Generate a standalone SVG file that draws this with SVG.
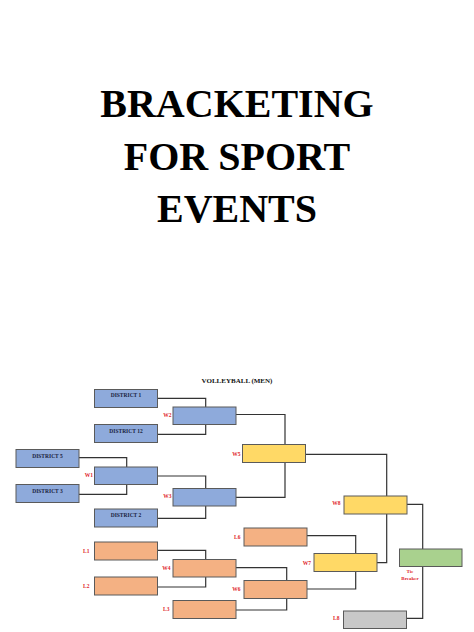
<svg xmlns="http://www.w3.org/2000/svg" width="474" height="632" viewBox="0 0 474 632">
<style>
.title{font-family:"Liberation Serif","Times New Roman",serif;font-weight:bold;font-size:40px;fill:#000;text-anchor:middle}
.sub{font-family:"Liberation Serif","Times New Roman",serif;font-weight:bold;font-size:7px;fill:#111;text-anchor:middle}
.box{stroke:#5a5a5a;stroke-width:1}
.blue{fill:#8eaadb}
.orange{fill:#f4b183}
.yellow{fill:#ffd966}
.green{fill:#a9d18e}
.gray{fill:#c8c8c8}
.dl{font-family:"Liberation Serif","Times New Roman",serif;font-weight:bold;font-size:5.5px;fill:#1a2340;text-anchor:middle}
.lab{font-family:"Liberation Serif","Times New Roman",serif;font-weight:bold;font-size:5.5px;fill:#e0242a;text-anchor:end}
.labc{font-family:"Liberation Serif","Times New Roman",serif;font-weight:bold;font-size:5px;fill:#e0242a;text-anchor:middle}
.conn{fill:none;stroke:#333;stroke-width:1.2}
</style>
<rect width="474" height="632" fill="#fff"/>
<g id="title">
<text class="title" x="237" y="117">BRACKETING</text>
<text class="title" x="237" y="170">FOR SPORT</text>
<text class="title" x="237" y="222">EVENTS</text>
</g>
<text class="sub" x="237" y="383">VOLLEYBALL (MEN)</text>
<g id="connectors">
<path class="conn" d="M157,398.3H205.7V407M157,434.3H205.7V425"/>
<path class="conn" d="M79,457.7H126.7V467M79,494.3H126.7V485"/>
<path class="conn" d="M157,476H205.7V488M157,518.3H205.7V506"/>
<path class="conn" d="M157,550.3H205.7V559M157,587H205.7V577"/>
<path class="conn" d="M236,414.5H285V497.3H236"/>
<path class="conn" d="M305,454.3H386.7V562.7H377"/>
<path class="conn" d="M236,567.7H286.7V610H236"/>
<path class="conn" d="M307,535.7H355.7V553M307,589H355.7V571"/>
<path class="conn" d="M407,504.3H422.7V618.3H406.7"/>
</g>
<g id="district1"><rect class="box blue" x="94.5" y="389.5" width="63" height="18"/><text class="dl" x="126" y="397">DISTRICT 1</text></g>
<g id="district12"><rect class="box blue" x="94.5" y="424.5" width="63" height="18"/><text class="dl" x="126" y="432.5">DISTRICT 12</text></g>
<g id="district5"><rect class="box blue" x="16" y="449.5" width="63" height="18"/><text class="dl" x="47.5" y="457.5">DISTRICT 5</text></g>
<g id="district3"><rect class="box blue" x="16" y="484.5" width="63" height="18"/><text class="dl" x="47.5" y="492.5">DISTRICT 3</text></g>
<g id="district2"><rect class="box blue" x="94.5" y="509" width="63" height="18"/><text class="dl" x="126" y="516.5">DISTRICT 2</text></g>
<g id="w1"><rect class="box blue" x="94.5" y="467" width="63" height="17.5"/><text class="lab" x="93" y="477">W1</text></g>
<g id="w2"><rect class="box blue" x="173" y="407" width="63" height="17.5"/><text class="lab" x="171.5" y="417">W2</text></g>
<g id="w3"><rect class="box blue" x="173" y="488.5" width="63" height="17.5"/><text class="lab" x="171.5" y="498">W3</text></g>
<g id="l1"><rect class="box orange" x="94.5" y="542" width="63" height="18"/><text class="lab" x="89.5" y="553">L1</text></g>
<g id="l2"><rect class="box orange" x="94.5" y="577" width="63" height="18"/><text class="lab" x="89.5" y="588">L2</text></g>
<g id="w4"><rect class="box orange" x="173" y="559.5" width="63" height="17.5"/><text class="lab" x="170.5" y="570">W4</text></g>
<g id="l3"><rect class="box orange" x="173" y="600.5" width="63" height="18"/><text class="lab" x="169.5" y="611">L3</text></g>
<g id="w5"><rect class="box yellow" x="242.5" y="444.5" width="63" height="18"/><text class="lab" x="240.5" y="456">W5</text></g>
<g id="l6"><rect class="box orange" x="244" y="528" width="63" height="18"/><text class="lab" x="240.5" y="539">L6</text></g>
<g id="w6"><rect class="box orange" x="244" y="580.5" width="63" height="18"/><text class="lab" x="240.5" y="591">W6</text></g>
<g id="w7"><rect class="box yellow" x="314" y="553.5" width="63" height="18"/><text class="lab" x="311" y="565">W7</text></g>
<g id="w8"><rect class="box yellow" x="344" y="496" width="63" height="18"/><text class="lab" x="340.5" y="505">W8</text></g>
<g id="tiebreaker"><rect class="box green" x="399.5" y="549" width="62.5" height="17.5"/><text class="labc" x="410" y="573">Tie</text><text class="labc" x="410" y="580">Breaker</text></g>
<g id="l8"><rect class="box gray" x="343.5" y="611" width="63" height="17.5"/><text class="lab" x="339.5" y="620">L8</text></g>
</svg>
